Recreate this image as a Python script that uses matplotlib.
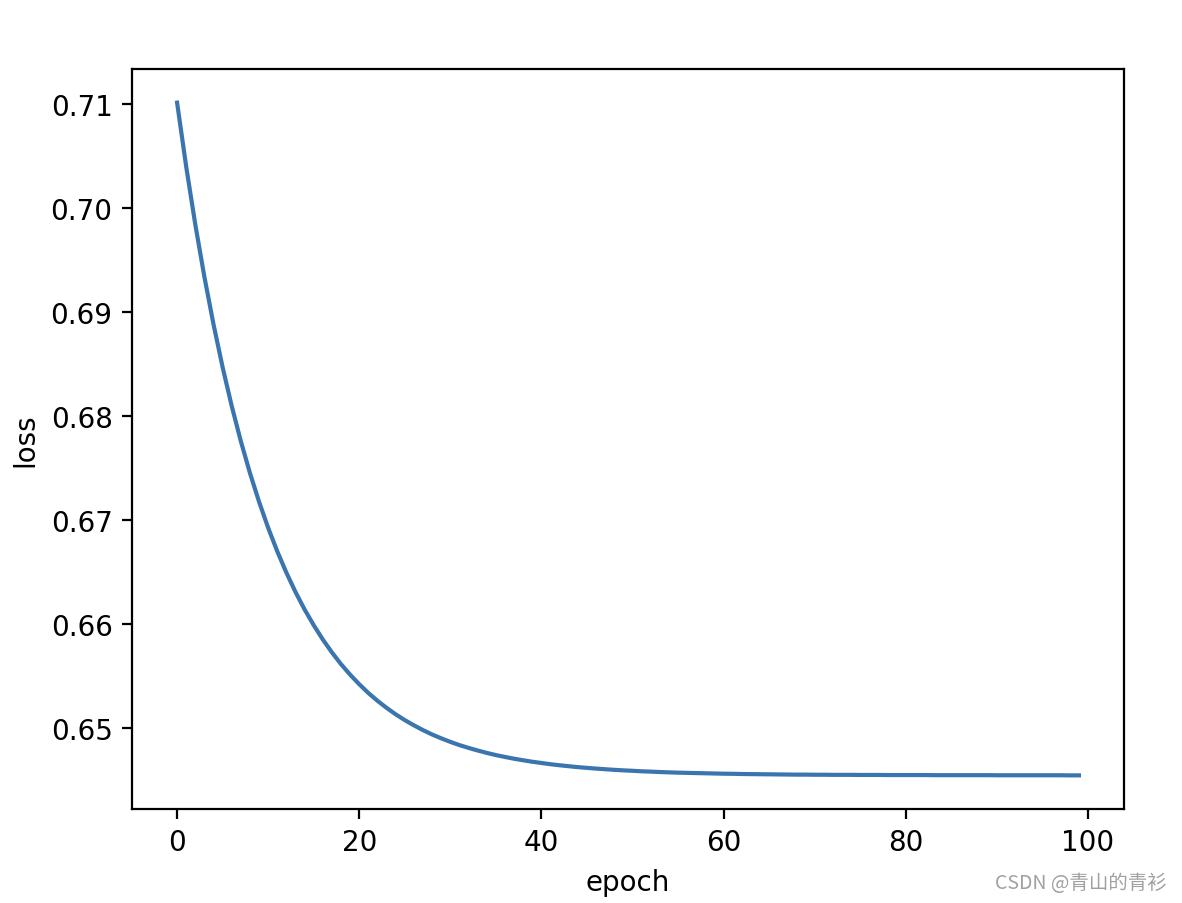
import matplotlib
matplotlib.use("Agg")
import matplotlib.pyplot as plt

# loss per epoch
epochs = list(range(100))
loss = [
    0.71010, 0.70394, 0.69837, 0.69333, 0.68877, 0.68464, 0.68091, 0.67753, 0.67447, 0.67171,
    0.66920, 0.66694, 0.66489, 0.66303, 0.66135, 0.65984, 0.65846, 0.65722, 0.65609, 0.65508,
    0.65416, 0.65332, 0.65257, 0.65189, 0.65127, 0.65071, 0.65021, 0.64975, 0.64933, 0.64896,
    0.64862, 0.64831, 0.64804, 0.64779, 0.64756, 0.64735, 0.64717, 0.64700, 0.64685, 0.64671,
    0.64659, 0.64647, 0.64637, 0.64628, 0.64619, 0.64612, 0.64605, 0.64599, 0.64593, 0.64588,
    0.64584, 0.64579, 0.64576, 0.64572, 0.64569, 0.64566, 0.64564, 0.64562, 0.64560, 0.64558,
    0.64556, 0.64555, 0.64553, 0.64552, 0.64551, 0.64550, 0.64549, 0.64548, 0.64547, 0.64547,
    0.64546, 0.64546, 0.64545, 0.64545, 0.64545, 0.64544, 0.64544, 0.64544, 0.64543, 0.64543,
    0.64543, 0.64543, 0.64543, 0.64542, 0.64542, 0.64542, 0.64542, 0.64542, 0.64542, 0.64542,
    0.64541, 0.64541, 0.64541, 0.64541, 0.64541, 0.64541, 0.64541, 0.64541, 0.64540, 0.64540,
]

fig = plt.figure(figsize=(5.91, 4.52), dpi=200)
ax = fig.add_axes([132 / 1182, 94 / 904, 992 / 1182, 740 / 904])

ax.plot(epochs, loss, color="#3b75af", linewidth=1.5)
ax.set_xlabel("epoch")
ax.set_ylabel("loss")

fig.text(0.987, 0.011, "CSDN @青山的青衫", ha="right", va="bottom",
         fontsize=7, color="#a0a0a0",
         family=["Noto Sans CJK SC", "DejaVu Sans"])

fig.savefig("out.png", dpi=200)
